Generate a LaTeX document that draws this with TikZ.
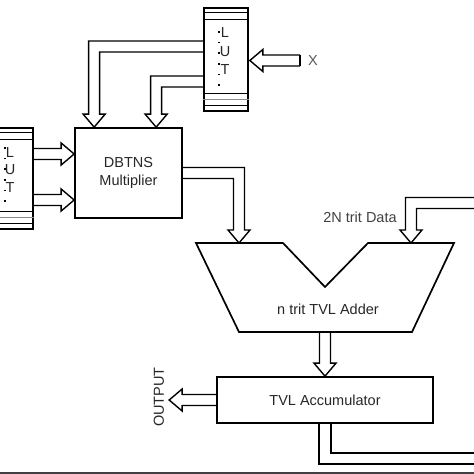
\documentclass[tikz,border=0pt]{standalone}
\usepackage{fontspec}
\setmainfont{Liberation Sans}
\usetikzlibrary{calc}

\tikzset{
  blockbox/.style={draw, line width=1.7pt, inner sep=0pt},
  lutbox/.style={blockbox, minimum width=44pt, minimum height=103pt},
  lbl/.style={font=\fontsize{14.5}{18}\selectfont, text=black!85},
  hollow/.style={line width=1.4pt, line join=miter},
  lutdots/.style={line width=1.6pt, dash pattern=on 1.6pt off 9pt},
}

% hollow arrows: shaft 11pt wide, head 22pt wide and 13pt long
\newcommand{\rarrow}[2]{\draw[hollow] ($(#2)+(-13,-5.5)$) coordinate (ra) ($(#2)+(-13,5.5)$) coordinate (rb)
  (#1 |- ra) -- (ra) -- ++(0,-5.5) -- (#2) -- ($(rb)+(0,5.5)$) -- (rb) -- (#1 |- rb);}
\newcommand{\larrow}[2]{\draw[hollow] ($(#2)+(13,-5.5)$) coordinate (la) ($(#2)+(13,5.5)$) coordinate (lb)
  (#1 |- la) -- (la) -- ++(0,-5.5) -- (#2) -- ($(lb)+(0,5.5)$) -- (lb) -- (#1 |- lb);}
\newcommand{\darrow}[2]{\draw[hollow] ($(#2)+(-5.5,-13)$) coordinate (da) ($(#2)+(5.5,-13)$) coordinate (db)
  (da |- #1) -- (da) -- ++(-5.5,0) -- (#2) -- ($(db)+(5.5,0)$) -- (db) -- (db |- #1);}
\newcommand{\bentdown}[3]{\draw[hollow] ($(#1)+(0,-5.5)$) -| ($(#2)+({-5.5*#3},-13)$) -- ++({-5.5*#3},0)
  -- (#2) -- ++({11*#3},-13) -- ++({-5.5*#3},0) |- ($(#1)+(0,5.5)$);}

\begin{document}
\begin{tikzpicture}[x=1pt,y=-1pt]
\useasboundingbox (0,0) rectangle (474,474);
\clip (0,0) rectangle (474,474);

% look-up tables
\node[lutbox] (lutx) at (226,59.5) {};
\node[lutbox, minimum width=53pt, minimum height=101pt] (lutl) at (6.5,178.5) {};
\foreach \lut in {lutx,lutl} {
  \foreach \d in {5,12} \draw[line width=1.1pt] ($(\lut.north west)+(0,\d)$) -- ($(\lut.north east)+(0,\d)$);
  \foreach \d in {6,18} \draw[line width=1.1pt] ($(\lut.south west)+(0,-\d)$) -- ($(\lut.south east)+(0,-\d)$);
  \draw[line width=1.1pt, black!45] ($(\lut.south west)+(0,-12)$) -- ($(\lut.south east)+(0,-12)$);
}
\draw[lutdots] ($(lutx.north)+(-7,24)$) -- ++(0,56);
\foreach \t/\d in {L/25,U/44,T/62} \node[lbl] (lutx-\t) at ($(lutx.north)+(-1,\d)$) {\t};
\draw[lutdots] ($(lutl.north)+(-1.5,20)$) -- ++(0,60);
\foreach \t/\d in {L/25,U/42,T/60} \node[lbl] (lutl-\t) at ($(lutl.north)+(3.5,\d)$) {\t};

% multiplier, adder, accumulator
\node[blockbox, lbl, align=center, minimum width=107pt, minimum height=90pt] (mult) at (128.5,173) {DBTNS\\Multiplier};
\draw[line width=1.7pt] (196,243) -- (283,243) -- (325,287) -- (368,243) -- (454,243) -- (412,332) -- (239,332) -- cycle;
\node[lbl] (adder) at (328,309) {n trit TVL Adder};
\node[blockbox, lbl, minimum width=216pt, minimum height=46pt] (acc) at (325,400) {TVL Accumulator};

% text
\node[lbl, text=black!65] (xlbl) at (313,61) {X};
\node[lbl, text=black!75] (datalbl) at (360,217) {2N trit Data};
\node[lbl, rotate=90] (outlbl) at (159,397) {OUTPUT};

% arrow ends
\coordinate (xin) at (300,60.5);
\coordinate (xtip) at ($(lutx.east)+(1,1)$);
\coordinate (lo1) at ($(lutx.west)+(0,-13)$);
\coordinate (lo2) at ($(lutx.west)+(0,22)$);
\coordinate (mi1) at ($(mult.north west)+(20,0)$);
\coordinate (mi2) at ($(mult.north west)+(82,0)$);
\coordinate (ml1) at ($(mult.west)+(0,-19)$);
\coordinate (ml2) at ($(mult.west)+(0,27)$);
\coordinate (adinl) at (239,243);
\coordinate (adinr) at (411,243);
\coordinate (adout) at (325,332);
\coordinate (din) at (480,203);
\coordinate (outtip) at ($(acc.west)+(-47,0)$);
\coordinate (fb) at (480,458.5);

% arrows
\larrow{xin}{xtip}
\draw[hollow] (xin |- la) -- (xin |- lb);
\bentdown{lo1}{mi1}{1}
\bentdown{lo2}{mi2}{1}
\rarrow{lutl.east}{ml1}
\rarrow{lutl.east}{ml2}
\bentdown{mult.east}{adinl}{-1}
\bentdown{din}{adinr}{1}
\darrow{adout}{acc.north}
\larrow{acc.west}{outtip}
\draw[hollow] ($(acc.south)+(-6,0)$) |- ($(fb)+(0,5.5)$);
\draw[hollow] ($(acc.south)+(6,0)$) |- ($(fb)+(0,-5.5)$);

\fill[black!75] (0,471.5) rectangle (474,474);
\end{tikzpicture}
\end{document}
